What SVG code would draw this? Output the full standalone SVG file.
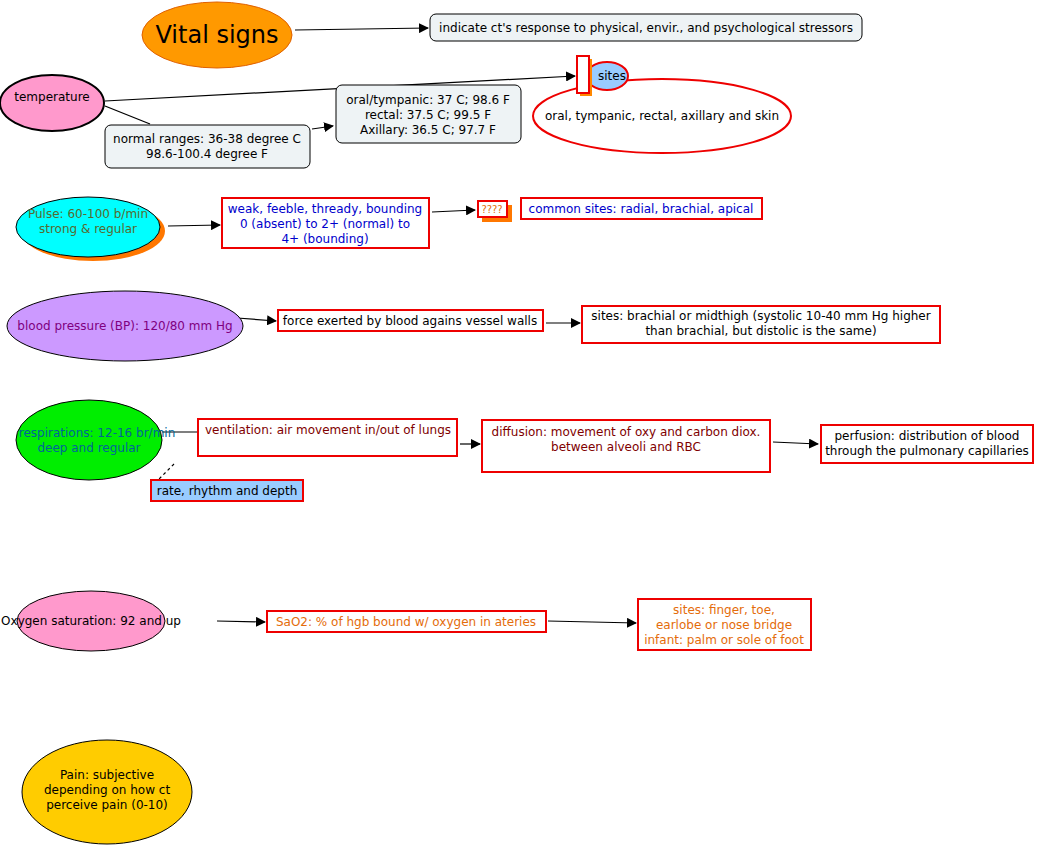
<svg xmlns="http://www.w3.org/2000/svg" width="1042" height="846" viewBox="0 0 1042 846">
<style>
text{font-family:"DejaVu Sans",Verdana,sans-serif;font-size:12px;text-anchor:middle}
.c{stroke:#000;stroke-width:1.2;fill:none}
.r{fill:#fff;stroke:#e00;stroke-width:2}
.g{fill:#eef3f5;stroke:#000;stroke-width:1}
</style>
<defs><marker id="a" markerWidth="10" markerHeight="10" refX="9" refY="5" orient="auto" markerUnits="userSpaceOnUse"><path d="M0,0L10,5L0,10z"/></marker></defs>
<g id="connectors">
<path class="c" marker-end="url(#a)" d="M295,30L428,28"/>
<path class="c" marker-end="url(#a)" d="M105,101L575,76"/>
<path class="c" d="M105,106L150,124"/>
<path class="c" marker-end="url(#a)" d="M312,129L333,126"/>
<path class="c" marker-end="url(#a)" d="M168,226L220,225"/>
<path class="c" marker-end="url(#a)" d="M432,212L475,210"/>
<path class="c" marker-end="url(#a)" d="M237,318L276,321"/>
<path class="c" marker-end="url(#a)" d="M546,323L580,323"/>
<path class="c" d="M162,432L198,432"/>
<path class="c" marker-end="url(#a)" d="M460,444L480,444"/>
<path class="c" marker-end="url(#a)" d="M773,442L818,444"/>
<path class="c" stroke-dasharray="3,3" d="M174,464L158,480"/>
<path class="c" marker-end="url(#a)" d="M217,621L265,622"/>
<path class="c" marker-end="url(#a)" d="M548,621L636,623"/>
</g>
<g id="vital"><ellipse cx="217" cy="35" rx="75" ry="33" fill="#ff9900" stroke="#e06000"/><text x="217" y="43" style="font-size:24px">Vital signs</text></g>
<g id="indicate"><rect class="g" x="430" y="14" width="432" height="27" rx="6"/><text x="646" y="32">indicate ct's response to physical, envir., and psychological stressors</text></g>
<g id="temperature"><ellipse cx="52" cy="103" rx="52" ry="28" fill="#ff99cc" stroke="#000" stroke-width="2"/><text x="52" y="101">temperature</text></g>
<g id="sites"><ellipse cx="662" cy="116" rx="129" ry="37" fill="#fff" stroke="#e00" stroke-width="2"/><text x="662" y="120">oral, tympanic, rectal, axillary and skin</text>
<ellipse cx="607" cy="76" rx="21" ry="14" fill="#99ccff" stroke="#e00" stroke-width="2"/><rect x="580" y="59" width="12" height="37" fill="#ff8800"/><rect class="r" x="577" y="56" width="12" height="37"/><text x="612" y="80">sites</text></g>
<g id="normal"><rect class="g" x="105" y="125" width="205" height="43" rx="6"/><text x="207" y="143">normal ranges: 36-38 degree C</text><text x="207" y="158">98.6-100.4 degree F</text></g>
<g id="oral"><rect class="g" x="336" y="85" width="185" height="58" rx="6"/><text x="428" y="104">oral/tympanic: 37 C; 98.6 F</text><text x="428" y="119">rectal: 37.5 C; 99.5 F</text><text x="428" y="134">Axillary: 36.5 C; 97.7 F</text></g>
<g id="pulse"><ellipse cx="93" cy="231" rx="72" ry="30" fill="#ff7700"/><ellipse cx="88" cy="227" rx="72" ry="30" fill="#00ffff" stroke="#000"/><g fill="#556b2f"><text x="88" y="218">Pulse: 60-100 b/min</text><text x="88" y="233">strong &amp; regular</text></g></g>
<g id="weak"><rect class="r" x="222" y="198" width="207" height="50"/><g fill="#0000cc"><text x="325" y="213">weak, feeble, thready, bounding</text><text x="325" y="228">0 (absent) to 2+ (normal) to</text><text x="325" y="243">4+ (bounding)</text></g></g>
<g id="q"><rect x="482" y="205" width="30" height="17" fill="#ff7700"/><rect class="r" x="478" y="201" width="29" height="16"/><text x="492" y="213" fill="#e46c0a" style="font-size:10px">????</text></g>
<g id="common"><rect class="r" x="521" y="198" width="241" height="21"/><text x="641" y="213" fill="#0000cc">common sites: radial, brachial, apical</text></g>
<g id="bp"><ellipse cx="125" cy="326" rx="118" ry="35" fill="#cc99ff" stroke="#000"/><text x="125" y="330" fill="#800080">blood pressure (BP): 120/80 mm Hg</text></g>
<g id="force"><rect class="r" x="278" y="310" width="265" height="21"/><text x="410" y="325">force exerted by blood agains vessel walls</text></g>
<g id="bpsites"><rect class="r" x="582" y="306" width="358" height="37"/><text x="761" y="320">sites: brachial or midthigh (systolic 10-40 mm Hg higher</text><text x="761" y="335">than brachial, but distolic is the same)</text></g>
<g id="resp"><ellipse cx="89" cy="440" rx="73" ry="40" fill="#00ee00" stroke="#000"/><g fill="#006699"><text x="97" y="437">respirations: 12-16 br/min</text><text x="89" y="452">deep and regular</text></g></g>
<g id="vent"><rect class="r" x="198" y="419" width="259" height="37"/><text x="328" y="434" fill="#800000">ventilation: air movement in/out of lungs</text></g>
<g id="diff"><rect class="r" x="482" y="420" width="288" height="52"/><g fill="#800000"><text x="626" y="436">diffusion: movement of oxy and carbon diox.</text><text x="626" y="451">between  alveoli and RBC</text></g></g>
<g id="perf"><rect class="r" x="821" y="425" width="212" height="38"/><text x="927" y="440">perfusion: distribution of blood</text><text x="927" y="455">through the pulmonary capillaries</text></g>
<g id="rate"><rect x="151" y="480" width="152" height="21" fill="#99ccff" stroke="#e00" stroke-width="2"/><text x="227" y="495">rate, rhythm and depth</text></g>
<g id="oxy"><ellipse cx="91" cy="621" rx="74" ry="30" fill="#ff99cc" stroke="#000"/><text x="91" y="625">Oxygen saturation: 92 and up</text></g>
<g id="sao2"><rect class="r" x="267" y="611" width="279" height="21"/><text x="406" y="626" fill="#e46c0a">SaO2: % of hgb bound w/ oxygen in ateries</text></g>
<g id="oxsites"><rect class="r" x="638" y="599" width="173" height="51"/><g fill="#e46c0a"><text x="724" y="614">sites: finger, toe,</text><text x="724" y="629">earlobe or nose bridge</text><text x="724" y="644">infant: palm or sole of foot</text></g></g>
<g id="pain"><ellipse cx="107" cy="792" rx="85" ry="52" fill="#ffcc00" stroke="#000"/><text x="107" y="779">Pain: subjective</text><text x="107" y="794">depending on how ct</text><text x="107" y="809">perceive pain (0-10)</text></g>
</svg>
